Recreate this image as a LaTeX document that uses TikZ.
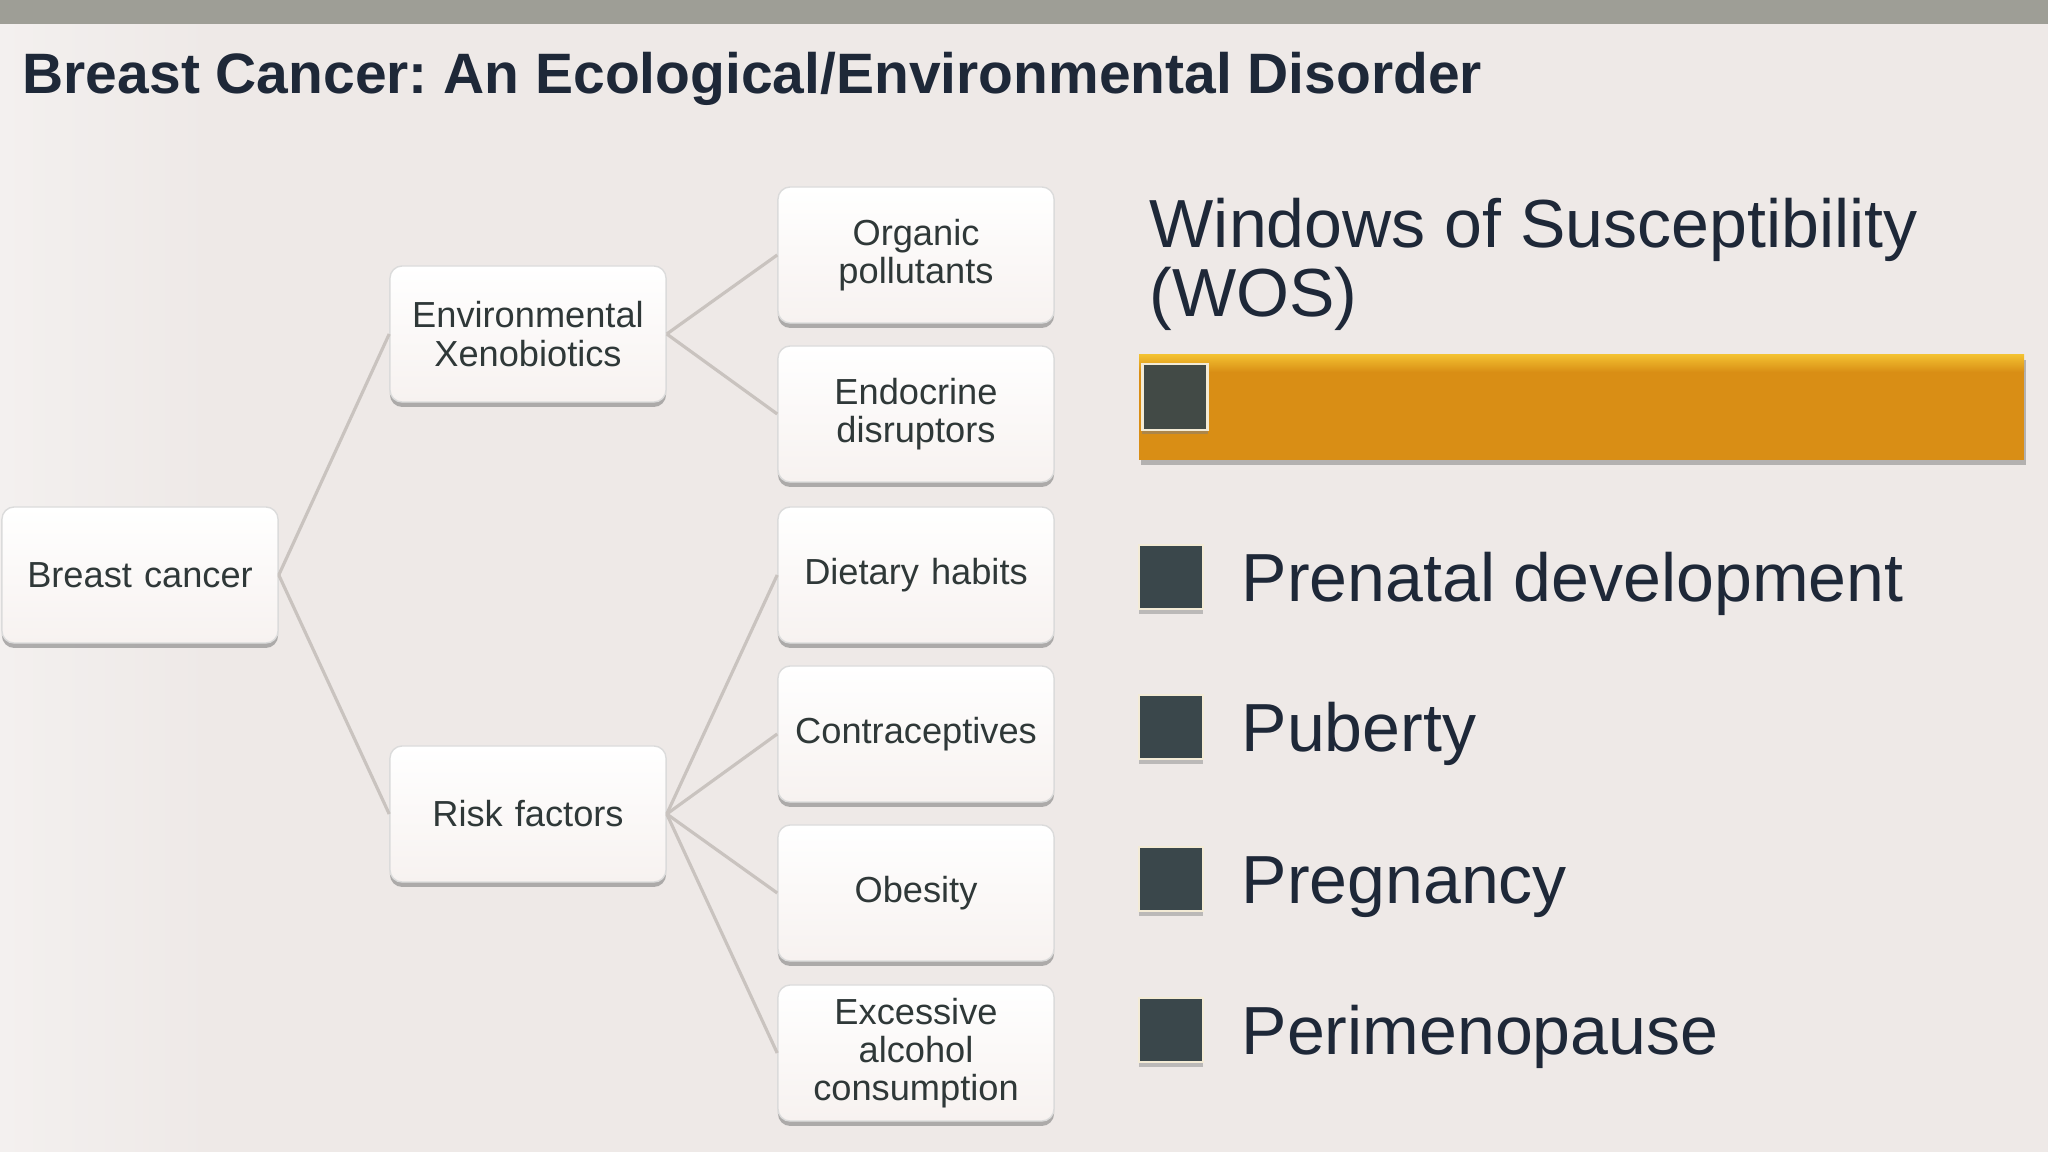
\documentclass[tikz,border=0pt]{standalone}
\usepackage{fontspec}
\setmainfont{Liberation Sans}
\usetikzlibrary{shadows}
\frenchspacing
\definecolor{bg}{HTML}{EEE9E7}
\definecolor{band}{HTML}{9E9E96}
\definecolor{navy}{HTML}{1E2838}
\definecolor{boxtext}{HTML}{2F3838}
\definecolor{boxfill}{HTML}{F7F2F0}
\definecolor{link}{HTML}{C9C3BF}
\definecolor{orangebar}{HTML}{D98E15}
\definecolor{barhi}{HTML}{F2C030}
\definecolor{sqdark}{HTML}{3A474B}
\definecolor{sqbar}{HTML}{424A46}
\definecolor{cream}{HTML}{F3EBD6}
\begin{document}
\begin{tikzpicture}[x=0.01cm,y=-0.01cm,
  tbox/.style={draw=black!14, line width=0.4pt, rounded corners=3.5pt,
    minimum width=2.76cm, minimum height=1.36cm, text width=2.7cm, align=center,
    top color=white, bottom color=boxfill, text=boxtext, inner sep=0pt,
    font=\fontsize{10.3}{10.9}\selectfont,
    drop shadow={shadow xshift=0pt, shadow yshift=-1.4pt, fill=black!50, opacity=0.6}},
  conn/.style={draw=link, line width=0.9pt},
  bullet/.style={fill=sqdark, draw=cream, line width=0.5pt, minimum size=0.64cm, inner sep=0pt,
    drop shadow={shadow xshift=0pt, shadow yshift=-1.3pt, fill=black!40, opacity=0.6}},
  wos/.style={anchor=base west, inner sep=0pt, text=navy, font=\fontsize{19.35}{19.6}\selectfont}
]
\useasboundingbox (0,0) rectangle (2048,1152);
\fill[bg] (0,0) rectangle (2048,1152);
\shade[left color=white, right color=bg, opacity=0.35] (0,24) rectangle (220,1152);
\fill[band] (0,0) rectangle (2048,24);

\node[anchor=base west, inner sep=0pt, text=navy, font=\bfseries\fontsize{16.2}{19}\selectfont] (title) at (22,94)
  {Breast Cancer: An Ecological/Environmental Disorder};

% tree
\node[tbox] (bc)   at (140,575) {Breast cancer};
\node[tbox] (env)  at (528,334) {Environmental\\Xenobiotics};
\node[tbox] (risk) at (528,814) {Risk factors};
\node[tbox] (org)  at (916,255) {Organic\\pollutants};
\node[tbox] (endo) at (916,414) {Endocrine\\disruptors};
\node[tbox] (diet) at (916,575) {Dietary habits};
\node[tbox] (contra) at (916,734) {Contraceptives};
\node[tbox] (obes) at (916,893) {Obesity};
\node[tbox] (alc)  at (916,1053) {Excessive\\alcohol\\consumption};

\draw[conn] (bc.east) -- (env.west);
\draw[conn] (bc.east) -- (risk.west);
\draw[conn] (env.east) -- (org.west);
\draw[conn] (env.east) -- (endo.west);
\draw[conn] (risk.east) -- (diet.west);
\draw[conn] (risk.east) -- (contra.west);
\draw[conn] (risk.east) -- (obes.west);
\draw[conn] (risk.east) -- (alc.west);

% windows of susceptibility
\node[wos] (wos1) at (1149,248) {Windows of Susceptibility};
\node[wos] (wos2) at (1149,317) {(WOS)};

\fill[orangebar, drop shadow={shadow xshift=0.6pt, shadow yshift=-1.5pt, fill=black!45, opacity=0.6}] (1139,355) rectangle (2024,460);
\shade[top color=barhi, bottom color=orangebar] (1139,355) rectangle (2024,372);
\node[fill=sqbar, draw=cream, line width=0.8pt, minimum width=0.65cm, minimum height=0.66cm, inner sep=0pt,
  drop shadow={shadow xshift=0pt, shadow yshift=-1.2pt, fill=black!50, opacity=0.5}] (barsq) at (1175,397) {};

\node[bullet] (b1) at (1171,577) {};
\node[bullet] (b2) at (1171,727) {};
\node[bullet] (b3) at (1171,879) {};
\node[bullet] (b4) at (1171,1030) {};
\node[wos] (t1) at (1241,601) {Prenatal development};
\node[wos] (t2) at (1241,751) {Puberty};
\node[wos] (t3) at (1241,903) {Pregnancy};
\node[wos] (t4) at (1241,1054) {Perimenopause};
\end{tikzpicture}
\end{document}
